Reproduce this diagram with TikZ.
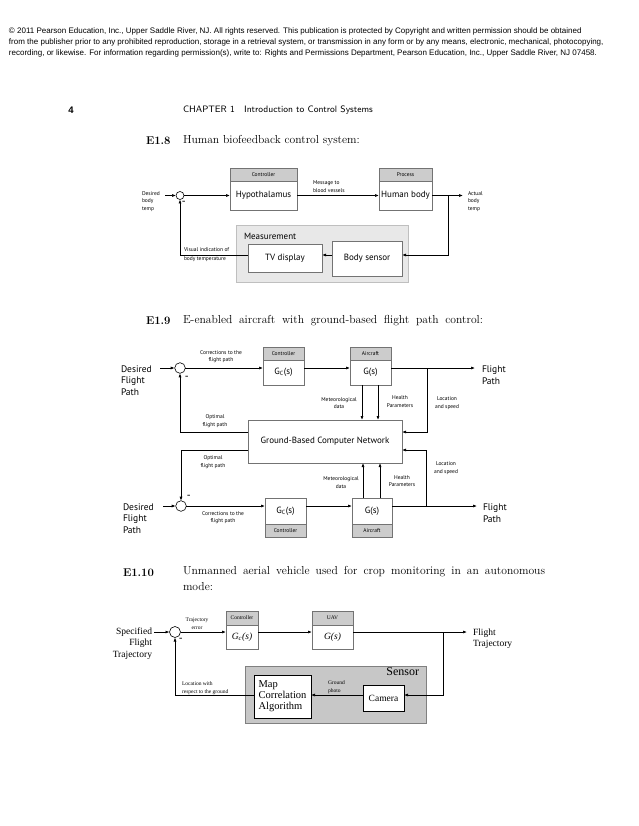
\documentclass[tikz,border=0pt]{standalone}
\usepackage{fontspec}
\newfontfamily\hdrfont{Liberation Sans}
\newfontfamily\dsans{PT Sans}
\newfontfamily\tms{Liberation Serif}
\usetikzlibrary{arrows.meta,calc}
\begin{document}
\begin{tikzpicture}[x=1pt,y=-1pt,line width=0.7pt,
  >={Latex[length=4pt,width=3pt]},
  every node/.style={inner sep=0pt,outer sep=0pt},
  hd/.style={draw=black!55,fill=black!20,line width=0.5pt},
  bx/.style={draw=black!55,fill=white,line width=0.5pt},
  tbx/.style={draw=black,fill=white,line width=0.6pt},
  sumc/.style={circle,draw,line width=0.6pt,fill=white,minimum size=#1},
  lbl/.style={font=\dsans\fontsize{5.5}{7.5}\selectfont,align=center},
  lblw/.style={font=\dsans\fontsize{5.5}{7.5}\selectfont,align=left,anchor=west},
  big/.style={font=\dsans\fontsize{9}{11}\selectfont},
  ext/.style={font=\dsans\fontsize{9.5}{11.5}\selectfont,align=left,anchor=west},
  tlbl/.style={font=\tms\fontsize{5.5}{7.5}\selectfont,align=center},
  tlblw/.style={font=\tms\fontsize{5.5}{8}\selectfont,align=left,anchor=west},
  tbig/.style={font=\tms\fontsize{9.5}{11.5}\selectfont},
  minus/.style={font=\bfseries\fontsize{8}{8}\selectfont},
  hdr/.style={font=\hdrfont\fontsize{8}{11}\selectfont,anchor=west},
  ttl/.style={font=\fontsize{11.6}{14}\selectfont,anchor=west},
  ttlb/.style={font=\bfseries\fontsize{11.3}{14}\selectfont,anchor=west}]
\useasboundingbox (0,0) rectangle (638,826);
\fill[white] (0,0) rectangle (638,826);

% ---------- header ----------
\node[hdr] (h1) at (9,31) {\textcopyright\ 2011 Pearson Education, Inc., Upper Saddle River, NJ. All rights reserved. This publication is protected by Copyright and written permission should be obtained};
\node[hdr] (h2) at (9,42) {from the publisher prior to any prohibited reproduction, storage in a retrieval system, or transmission in any form or by any means, electronic, mechanical, photocopying,};
\node[hdr] (h3) at (9,53) {recording, or likewise. For information regarding permission(s), write to: Rights and Permissions Department, Pearson Education, Inc., Upper Saddle River, NJ 07458.};

\node[font=\hdrfont\bfseries\fontsize{9.5}{11}\selectfont] (pg) at (71,110) {4};
\node[font=\sffamily\fontsize{9.3}{11}\selectfont,anchor=west] (chap) at (183,110) {CHAPTER 1\quad Introduction to Control Systems};

% ---------- E1.8 ----------
\node[ttlb] (e18) at (146,141) {E1.8};
\node[ttl] (t18) at (183,141) {Human biofeedback control system:};

\node[hd,minimum width=67,minimum height=13,lbl] (ctrl8H) at (263.5,174.5) {Controller};
\node[bx,minimum width=67,minimum height=29,big] (ctrl8) at (263.5,195.5) {Hypothalamus};
\node[hd,minimum width=53,minimum height=13,lbl] (proc8H) at (405.5,174.5) {Process};
\node[bx,minimum width=53,minimum height=29,big] (proc8) at (405.5,195.5) {Human body};
\node[sumc=8] (sum8) at (180,195.5) {};
\node[lblw] (des8) at (142,201.5) {Desired\\body\\temp};
\node[lblw] (act8) at (468,201.5) {Actual\\body\\temp};
\node[lblw] (msg8) at (313,186.5) {Message to\\blood vessels};
\node[minus] (mi8) at (184,202) {-};

\node[draw=black!25,fill=black!9,line width=0.5pt,minimum width=172,minimum height=57] (meas8) at (322,253.5) {};
\node[big,anchor=west] (measL) at (244,236) {Measurement};
\node[bx,minimum width=74,minimum height=28,big] (tv8) at (285,258) {TV display};
\node[bx,minimum width=70,minimum height=35,big] (bs8) at (367,258.5) {Body sensor};
\node[font=\dsans\fontsize{5.5}{9}\selectfont,align=left,anchor=west] (vis8) at (184,255) {Visual indication of\\body temperature};

\coordinate (in8) at (165,195.5);
\coordinate (out8) at (463,195.5);
\coordinate (br8) at (448,195.5);
\coordinate (fb8) at (0,255);
\draw[->] (in8) -- (sum8.west);
\draw[->] (sum8.east) -- (ctrl8.west);
\draw[->] (ctrl8.east) -- (proc8.west);
\draw[->] (proc8.east) -- (out8);
\draw[->] (br8) |- (bs8.east |- fb8);
\draw[->] (bs8.west |- fb8) -- (tv8.east |- fb8);
\draw[->] (tv8.west |- fb8) -| (sum8.south);

% ---------- E1.9 ----------
\node[ttlb] (e19) at (146,321) {E1.9};
\node[ttl] (t19) at (183,321) {\makebox[300pt][s]{E-enabled aircraft with ground-based flight path control:}};

% top loop
\node[sumc=10.6] (sum9a) at (180,368) {};
\node[ext] (des9a) at (121,380.5) {Desired\\Flight\\Path};
\node[ext] (fp9a) at (482,375) {Flight\\Path};
\node[hd,minimum width=41,minimum height=13,lbl] (gc9aH) at (283.5,353.5) {Controller};
\node[bx,minimum width=41,minimum height=25,big] (gc9a) at (283.5,372.5) {G\textsubscript{C}(s)};
\node[hd,minimum width=41,minimum height=13,lbl] (g9aH) at (370.5,353.5) {Aircraft};
\node[bx,minimum width=41,minimum height=25,big] (g9a) at (370.5,372.5) {G(s)};
\node[minus] (mi9a) at (187,377) {-};
\node[lbl,font=\dsans\fontsize{5.5}{6.8}\selectfont] (corr9a) at (221,357) {Corrections to the\\flight path};
\node[lbl] (met9a) at (339,403) {Meteorological\\data};
\node[lbl] (hp9a) at (400,401.5) {Health\\Parameters};
\node[lbl] (ls9a) at (447,403) {Location\\and speed};
\node[lbl] (op9a) at (215,421) {Optimal\\flight path};

\node[bx,minimum width=154,minimum height=43,big] (gnd) at (325,441.5) {Ground-Based Computer Network};

% bottom loop
\node[sumc=10.6] (sum9b) at (181,506) {};
\node[ext] (des9b) at (123,518.5) {Desired\\Flight\\Path};
\node[ext] (fp9b) at (483,513) {Flight\\Path};
\node[bx,minimum width=41,minimum height=26,big] (gc9b) at (285.5,511) {G\textsubscript{C}(s)};
\node[hd,minimum width=41,minimum height=13,lbl] (gc9bH) at (285.5,530.5) {Controller};
\node[bx,minimum width=40,minimum height=26,big] (g9b) at (372,511) {G(s)};
\node[hd,minimum width=40,minimum height=13,lbl] (g9bH) at (372,530.5) {Aircraft};
\node[minus] (mi9b) at (189,496) {-};
\node[lbl] (corr9b) at (223,517.5) {Corrections to the\\flight path};
\node[lbl] (met9b) at (341,482.5) {Meteorological\\data};
\node[lbl] (hp9b) at (402,481) {Health\\Parameters};
\node[lbl] (ls9b) at (446,468) {Location\\and speed};
\node[lbl] (op9b) at (213,462) {Optimal\\flight path};

\coordinate (in9a) at (160,368);
\coordinate (out9a) at (475,368);
\coordinate (br9a) at (427,368);
\coordinate (ya) at (0,432);
\coordinate (m9a) at (362,0);
\coordinate (h9a) at (378,0);
\coordinate (in9b) at (163,506);
\coordinate (out9b) at (477,506);
\coordinate (br9b) at (426,506);
\coordinate (yb) at (0,450);
\coordinate (m9b) at (363,0);
\coordinate (h9b) at (380,0);

\draw[->] (in9a) -- (sum9a.west);
\draw[->] (sum9a.east) -- (sum9a.east -| gc9a.west);
\draw[->] (gc9a.east |- sum9a) -- (g9a.west |- sum9a);
\draw[->] (g9a.east |- sum9a) -- (out9a);
\draw[->] (g9a.south -| m9a) -- (gnd.north -| m9a);
\draw[->] (g9a.south -| h9a) -- (gnd.north -| h9a);
\draw[->] (br9a) |- (gnd.east |- ya);
\draw[->] (gnd.west |- ya) -| (sum9a.south);

\draw[->] (in9b) -- (sum9b.west);
\draw[->] (sum9b.east) -- (sum9b.east -| gc9b.west);
\draw[->] (gc9b.east |- sum9b) -- (g9b.west |- sum9b);
\draw[->] (g9b.east |- sum9b) -- (out9b);
\draw[->] (g9b.north -| m9b) -- (gnd.south -| m9b);
\draw[->] (g9b.north -| h9b) -- (gnd.south -| h9b);
\draw[->] (br9b) |- (gnd.east |- yb);
\draw[->] (gnd.west |- yb) -| (sum9b.north);

% ---------- E1.10 ----------
\node[ttlb] (e110) at (123,573) {E1.10};
\node[anchor=north west,text width=362pt,align=justify,font=\fontsize{11.6}{16}\selectfont] (t110) at (183,566) {Unmanned aerial vehicle used for crop monitoring in an autonomous\linebreak mode:};

\node[tbig,align=right,anchor=east] (spec10) at (152,643.5) {Specified\\Flight\\Trajectory};
\node[sumc=11] (sum10) at (175,632) {};
\node[minus] (mi10) at (181,639) {-};
\node[tlbl] (te10) at (197,623.5) {Trajectory\\error};
\node[hd,minimum width=32,minimum height=14,tlbl] (c10H) at (242,618) {Controller};
\node[bx,minimum width=32,minimum height=24,tbig] (c10) at (242,637) {\itshape G\textsubscript{c}(s)};
\node[hd,minimum width=41,minimum height=14,tlbl] (u10H) at (332.5,618) {UAV};
\node[bx,minimum width=41,minimum height=24,tbig] (u10) at (332.5,637) {\itshape G(s)};
\node[tbig,align=left,anchor=west] (ft10) at (473,638.5) {Flight\\Trajectory};

\node[draw=black!50,fill=black!22,line width=0.6pt,minimum width=181,minimum height=57] (sens10) at (335.5,694.5) {};
\node[font=\tms\fontsize{12}{14}\selectfont,anchor=east] (sensL) at (419,672) {Sensor};
\node[tbx,minimum width=57,minimum height=43,align=left,font=\tms\fontsize{10.5}{11}\selectfont] (map10) at (282.5,696.5) {Map\\Correlation\\Algorithm};
\node[tbx,minimum width=41,minimum height=26,tbig] (cam10) at (383.5,698) {Camera};
\node[tlblw] (gp10) at (328,687) {Ground\\photo};
\node[tlblw] (loc10) at (182,688) {Location with\\respect to the ground};

\coordinate (in10) at (154,632);
\coordinate (out10) at (467,632);
\coordinate (br10) at (443,632);
\coordinate (y10) at (0,695);
\draw[->] (in10) -- (sum10.west);
\draw[->] (sum10.east) -- (sum10.east -| c10.west);
\draw[->] (c10.east |- sum10) -- (u10.west |- sum10);
\draw[->] (u10.east |- sum10) -- (out10);
\draw[->] (br10) |- (cam10.east |- y10);
\draw[->] (cam10.west |- y10) -- (map10.east |- y10);
\draw[->] (map10.west |- y10) -| (sum10.south);
\end{tikzpicture}
\end{document}
